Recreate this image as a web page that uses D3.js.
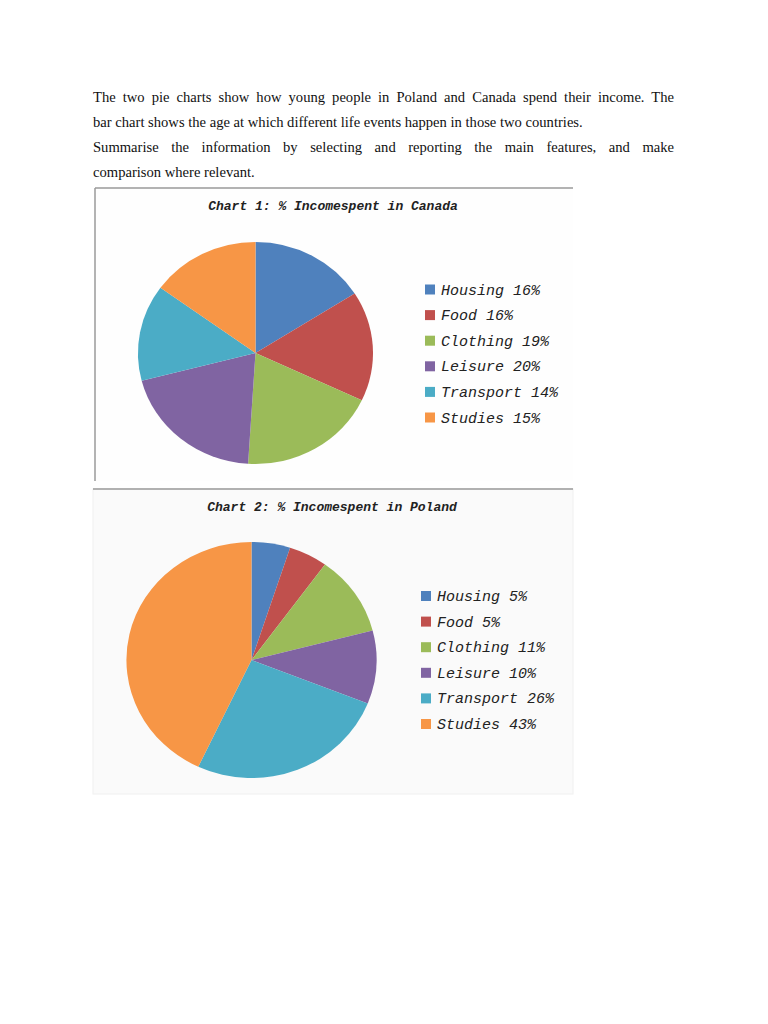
<!DOCTYPE html>
<html>
<head>
<meta charset="utf-8">
<title>Income spent - Canada and Poland</title>
<script src="https://d3js.org/d3.v7.min.js"></script>
<style>
    body { margin: 0; background: #ffffff; }
    .page { position: relative; width: 768px; height: 1024px; }
    .task {
        position: absolute; left: 93px; top: 85px; width: 581px;
        font-family: "Liberation Serif", "Times New Roman", serif;
        font-size: 14.6px; line-height: 25px; color: #111;
    }
    .task div { text-align: justify; text-align-last: justify; white-space: nowrap; }
    .task div.last { text-align-last: left; }
    svg { position: absolute; left: 0; top: 0; }
</style>
</head>
<body>
<div class="page">
    <svg id="chart" width="768" height="1024"></svg>
    <div class="task">
        <div>The two pie charts show how young people in Poland and Canada spend their income. The</div>
        <div class="last">bar chart shows the age at which different life events happen in those two countries.</div>
        <div>Summarise the information by selecting and reporting the main features, and make</div>
        <div class="last">comparison where relevant.</div>
    </div>
</div>
<script>
    let categories = ["Housing", "Food", "Clothing", "Leisure", "Transport", "Studies"];
    let canadaValues = [16, 16, 19, 20, 14, 15];
    let polandValues = [5, 5, 11, 10, 26, 43];
    let titles = ["Chart 1: % Incomespent in Canada", "Chart 2: % Incomespent in Poland"];

    let color = d3.scaleOrdinal()
        .domain(categories)
        .range(["#4f81bd", "#c0504d", "#9bbb59", "#8064a2", "#4bacc6", "#f79646"]);

    let svg = d3.select("#chart");

    // chart boxes (two pasted images)
    let boxes = [
        {x: 95, y: 188, w: 478, h: 293, title: titles[0], values: canadaValues,
         cx: 255.5, cy: 353, rx: 117.5, ry: 111, lx: 425, ly: 289.5, bg: "#fefefe"},
        {x: 93, y: 489, w: 480, h: 305, title: titles[1], values: polandValues,
         cx: 251.5, cy: 660, rx: 125, ry: 118, lx: 421, ly: 596, bg: "#fafafa"}
    ];

    let pie = d3.pie().sort(null).value(d => d.value);
    let arc = d3.arc().innerRadius(0).outerRadius(1);

    boxes.forEach(function(b, i) {
        let g = svg.append("g");

        g.append("rect")
            .attr("x", b.x).attr("y", b.y)
            .attr("width", b.w).attr("height", b.h)
            .style("fill", b.bg)
            .style("stroke", i == 0 ? "none" : "#f0f0f0");

        // top edge line
        g.append("line")
            .attr("x1", b.x).attr("x2", b.x + b.w)
            .attr("y1", b.y).attr("y2", b.y)
            .style("stroke", "#9a9a9a").style("stroke-width", 1.5);

        if (i == 0) {
            g.append("line")
                .attr("x1", b.x).attr("x2", b.x)
                .attr("y1", b.y).attr("y2", b.y + b.h)
                .style("stroke", "#9a9a9a").style("stroke-width", 1.5);
        }

        g.append("text")
            .attr("x", b.x + b.w / 2 - 1)
            .attr("y", b.y + 22)
            .style("font-family", "'Liberation Mono', 'DejaVu Sans Mono', monospace")
            .style("font-style", "italic")
            .style("font-weight", "bold")
            .style("font-size", "13px")
            .style("fill", "#222")
            .style("text-anchor", "middle")
            .text(b.title);

        let data = categories.map((c, k) => ({cat: c, value: b.values[k]}));

        g.append("g")
            .attr("transform", "translate(" + b.cx + "," + b.cy + ") scale(" + b.rx + "," + b.ry + ")")
            .selectAll("path")
            .data(pie(data))
            .enter()
            .append("path")
            .attr("d", arc)
            .style("fill", d => color(d.data.cat));

        let legend = g.append("g")
            .attr("transform", "translate(" + b.lx + "," + b.ly + ")");

        let rows = legend.selectAll("g")
            .data(data)
            .enter()
            .append("g")
            .attr("transform", (d, k) => "translate(0," + (k * 25.6) + ")");

        rows.append("rect")
            .attr("x", 0).attr("y", -5)
            .attr("width", 10).attr("height", 10)
            .style("fill", d => color(d.cat));

        rows.append("text")
            .attr("x", 16)
            .attr("y", 5)
            .style("font-family", "'Liberation Mono', 'DejaVu Sans Mono', monospace")
            .style("font-style", "italic")
            .style("font-size", "15px")
            .style("fill", "#222")
            .text(d => d.cat + " " + d.value + "%");
    });
</script>
</body>
</html>
